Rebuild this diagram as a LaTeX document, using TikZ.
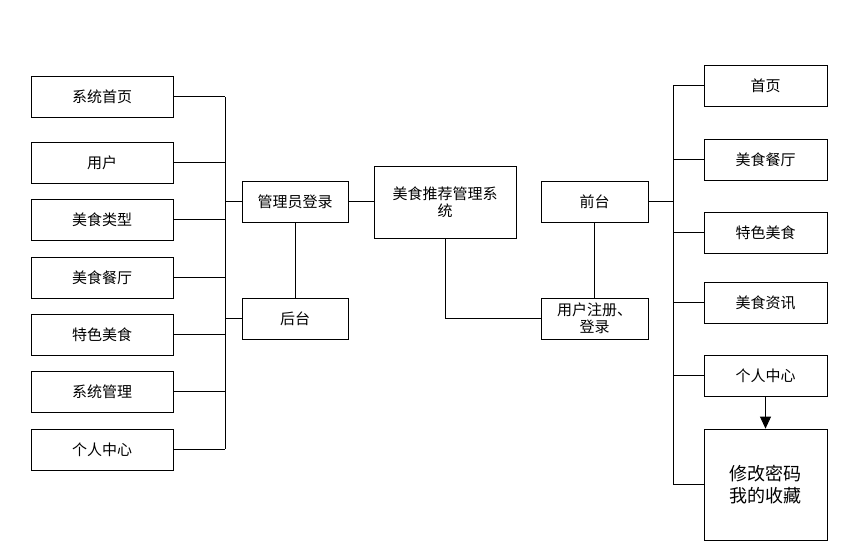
\documentclass[tikz,border=0pt]{standalone}
\usepackage{fontspec}
\setmainfont{Noto Sans CJK SC}
\usetikzlibrary{arrows.meta}
\begin{document}
\begin{tikzpicture}[x=1pt,y=-1pt,
  bx/.style={draw,line width=0.8pt,inner sep=0pt,align=center,font=\fontsize{15}{17}\selectfont},
  ln/.style={line width=0.8pt}]
\useasboundingbox (0,0) rectangle (863,550);
\newcommand\bxat[6]{\node[bx,minimum width=#3-#2,minimum height=#5-#4] (#1) at ({(#2+#3)/2},{(#4+#5)/2}) {#6};}
% left column
\bxat{l1}{31}{173}{76}{117}{系统首页}
\bxat{l2}{31}{173}{142}{183}{用户}
\bxat{l3}{31}{173}{199}{240}{美食类型}
\bxat{l4}{31}{173}{257}{298}{美食餐厅}
\bxat{l5}{31}{173}{314}{355}{特色美食}
\bxat{l6}{31}{173}{371}{412}{系统管理}
\bxat{l7}{31}{173}{429}{470}{个人中心}
\coordinate (lt) at (225,97); \coordinate (lb) at (225,449);
\draw[ln] (lt) -- (lb);
\foreach \n in {l1,l2,l3,l4,l5,l6,l7} \draw[ln] (\n.east) -- (\n.east -| lt);
\bxat{adm}{242}{348}{181}{222}{管理员登录}
\bxat{back}{242}{348}{298}{339}{后台}
\draw[ln] (adm.west) -- (adm.west -| lt);
\draw[ln] (back.west) -- (back.west -| lt);
\draw[ln] (adm) -- (back);
\bxat{sys}{374}{516}{166}{238}{美食推荐管理系\\统}
\draw[ln] (adm.east) -- (adm.east -| sys.west);
\bxat{front}{541}{648}{181}{222}{前台}
\bxat{reg}{541}{648}{298}{339}{用户注册、\\登录}
\draw[ln] (front) -- (reg);
\draw[ln] (sys.south) |- (reg.west);
% right column
\bxat{r1}{704}{827}{65}{106}{首页}
\bxat{r2}{704}{827}{139}{180}{美食餐厅}
\bxat{r3}{704}{827}{212}{253}{特色美食}
\bxat{r4}{704}{827}{282}{323}{美食资讯}
\bxat{r5}{704}{827}{355}{396}{个人中心}
\node[bx,minimum width=123,minimum height=111,font=\fontsize{18}{22}\selectfont] (r6) at (765.5,484.5) {修改密码\\我的收藏};
\coordinate (rt) at (673,86); \coordinate (rb) at (673,485);
\draw[ln] (rt) -- (rb);
\foreach \n in {r1,r2,r3,r4,r5,r6} \draw[ln] (\n.west) -- (\n.west -| rt);
\draw[ln] (front.east) -- (front.east -| rt);
\draw[ln,-{Triangle[length=12pt,width=11pt]}] (r5) -- (r6);
\end{tikzpicture}
\end{document}
